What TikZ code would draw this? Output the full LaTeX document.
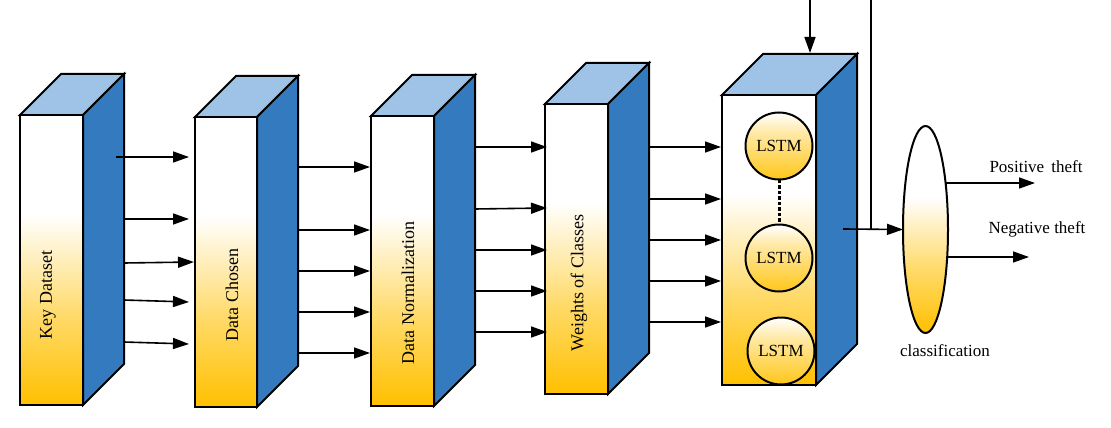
\documentclass[tikz,border=0pt]{standalone}
\usepackage{fontspec}
\setmainfont{Liberation Serif}
\usetikzlibrary{arrows.meta,shapes.geometric}
\definecolor{topblue}{HTML}{9FC3E6}
\definecolor{sideblue}{HTML}{337ABF}
\definecolor{gold}{HTML}{FFC000}
\pgfdeclareverticalshading{frontfade}{100bp}{color(0bp)=(gold); color(25bp)=(gold); color(40bp)=(gold!60!white); color(58bp)=(white); color(75bp)=(white); color(100bp)=(white)}
\pgfdeclareverticalshading{ballfade}{100bp}{color(0bp)=(gold!90!white); color(25bp)=(gold!90!white); color(60bp)=(gold!35!white); color(75bp)=(white); color(100bp)=(white)}
\tikzset{
  x=1pt,y=-1pt,
  edge/.style={draw=black,line width=2pt,line join=miter},
  front/.style={edge,shading=frontfade,inner sep=0pt,outer sep=0pt,anchor=north west,minimum width=#1,minimum height=290pt},
  front/.default=63pt,
  toplid/.style={edge,fill=topblue},
  sideface/.style={edge,fill=sideblue},
  flow/.style={draw=black,line width=1.6pt,-{Triangle[length=16pt,width=11pt]}},
  ball/.style={circle,draw=black,line width=2pt,shading=ballfade,minimum size=67pt,inner sep=0pt,outer sep=0pt,font=\fontsize{17}{17}\selectfont},
  rottext/.style={rotate=90,font=\fontsize{18}{18}\selectfont,inner sep=0pt},
  lbl/.style={font=\fontsize{17}{17}\selectfont,inner sep=0pt},
}
\newcommand{\slab}[4]{%name,x,y,w
  \draw[toplid] (#2,#3) -- ++(41,-41) -- ++(#4,0) -- ++(-41,41) -- cycle;
  \draw[sideface] (#2+#4,#3) -- ++(41,-41) -- ++(0,290) -- ++(-41,41) -- cycle;
  \node[front=#4pt] (#1) at (#2,#3) {};
}
\begin{document}
\begin{tikzpicture}
\useasboundingbox (0,0) rectangle (1111,428);
\slab{a}{20}{115}{63}
\slab{b}{195}{117}{62}
\slab{c}{371}{116}{63}
\slab{d}{545}{104}{63}
\slab{e}{722}{95}{94}
\node[rottext] (ta) at (48,295) {Key Dataset};
\node[rottext] (tb) at (232,295) {Data Chosen};
\node[rottext] (tc) at (408,293) {Data Normalization};
\node[rottext] (td) at (579,283) {Weights of Classes};
\node[ball] (l1) at (779,146) {LSTM};
\node[ball] (l2) at (779,258) {LSTM};
\node[ball] (l3) at (781,351) {LSTM};
\draw[black,line width=3pt,dash pattern=on 3.5pt off 2pt] (l1) -- (l2);
\node[edge,ellipse,shading=frontfade,minimum width=45pt,minimum height=207pt,inner sep=0pt,outer sep=0pt] (cl) at (925.5,229.5) {};
\node[lbl] (pos) at (1036,167) {Positive\, theft};
\node[lbl] (neg) at (1037,229) {Negative theft};
\node[lbl] (cla) at (945,351) {classification};
\foreach \i/\xa/\ya/\xb/\yb in {
 1/116/157/189/157,2/124/219/189/219,3/124/263/194/262,4/124/300/189/302,5/124/342/189/344,
 6/298/167/370/167,7/298/230/370/230,8/298/271/370/271,9/298/312/370/312,10/298/353/370/353,
 11/475/147/547/147,12/475/209/547/208,13/475/250/547/250,14/475/291/547/291,15/475/332/547/332,
 16/649/147/721/147,17/649/199/721/199,18/649/240/721/240,19/649/281/721/281,20/649/322/721/322}{
  \coordinate (s\i) at (\xa,\ya);
  \coordinate (t\i) at (\xb,\yb);
  \draw[flow] (s\i) -- (t\i);
}
\coordinate (topa) at (810,0);
\coordinate (topb) at (810,53);
\draw[flow] (topa) -- (topb);
\coordinate (feedtop) at (871,0);
\coordinate (feedjoin) at (871,229);
\coordinate (outs) at (843,229);
\draw[draw=black,line width=1.6pt] (feedtop) -- (feedjoin);
\draw[flow] (outs) -- (cl.west);
\coordinate (pe) at (1035,183);
\coordinate (ps) at (945,183);
\coordinate (ne) at (1029,257);
\coordinate (ns) at (947,257);
\draw[flow] (ps) -- (pe);
\draw[flow] (ns) -- (ne);
\end{tikzpicture}
\end{document}
